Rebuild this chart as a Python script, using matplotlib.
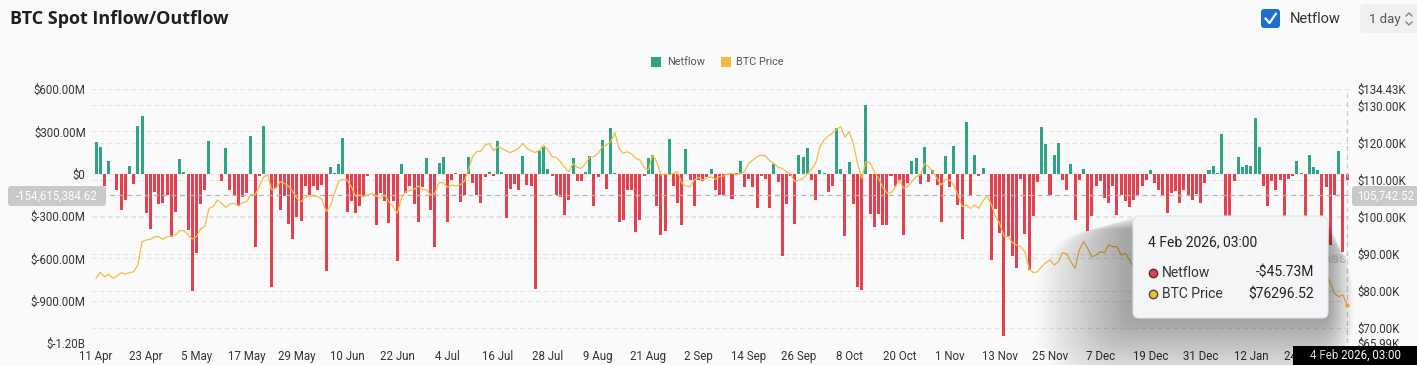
import numpy as np
import matplotlib.pyplot as plt
from matplotlib.patches import FancyBboxPatch, Rectangle
import datetime as dt

# daily data, 11 Apr 2025 -> 4 Feb 2026
start = dt.date(2025, 4, 11)

netflow_m = [
    224, 189, -85, 87, 0, -113, -255, -189, 57, -73,
    335, 411, -278, -389, -130, -215, -208, -149, -448, -271,
    104, 12, -401, -835, -562, -212, -113, 229, -5, -3,
    -54, 182, -113, -160, -227, -165, -137, 269, -521, -14,
    340, 0, -802, -101, -255, -160, -354, -462, -307, -333,
    -85, -149, -85, -113, -78, -691, 47, 5, 71, 250,
    -271, -196, -278, -231, -160, -19, -3, -366, -137, -196,
    -347, -196, -621, 71, -137, -85, -212, -342, -94, 109,
    -255, -519, 76, 118, -342, -42, 2, -200, -149, 118,
    -66, -149, -208, -24, 14, -19, 234, 12, -314, -109,
    -73, -118, 127, -78, -90, -814, 158, 189, 33, -19,
    -149, -165, -290, -189, 111, -54, -54, 14, 123, -227,
    -24, 241, -106, 321, 7, -342, -330, -113, -113, -413,
    -330, -19, 111, 135, -227, -432, -408, 245, -85, -208,
    -366, 175, -42, -227, -42, -54, -24, 33, -113, -149,
    -149, -10, -179, 5, 92, -94, -38, -94, -241, -14,
    -38, -245, 71, -61, -585, -212, -19, -354, 132, 118,
    182, -42, -189, 24, 5, -132, -85, 321, 35, -439,
    85, -212, -802, -826, 484, -283, -378, -283, -366, -366,
    -14, -85, -42, -437, -66, 87, 111, -76, 189, -59,
    24, -78, -345, 127, -94, 194, -219, -462, 366, -153,
    135, -14, 40, 0, -609, -250, -420, -1150, -440, -580,
    -665, -40, -430, -680, -300, -60, 330, 210, -153, 130,
    217, -42, -113, 71, -330, -42, 33, -408, -302, -90,
    -54, -172, -208, -90, -290, -149, -196, -236, -184, -149,
    -90, -42, 24, -66, -113, -149, -278, -137, -125, -208,
    -113, -149, -189, -142, -208, -66, 24, 57, 2, 283,
    -310, -320, -54, 118, 47, 64, 52, 394, 189, -85,
    -231, -54, -113, -42, -300, -38, -19, 87, 2, -300,
    135, 47, 28, -298, -94, -503, -149, 163, -557, -45.73,
]

btc_price = [
    83420, 85040, 83860, 84500, 83420, 84040, 84930, 84580, 84930, 85200,
    87000, 93280, 93740, 93930, 94630, 94630, 93930, 94630, 94820, 95090,
    96250, 96250, 95090, 94010, 94630, 96710, 97330, 102280, 102720, 104520,
    103630, 102550, 103440, 103630, 102900, 103800, 104070, 106060, 105870, 108110,
    110640, 111260, 107220, 107670, 109450, 109020, 108300, 106760, 104990, 104070,
    105250, 105610, 105610, 105430, 104710, 101370, 102900, 106320, 109640, 110090,
    109910, 108110, 105610, 105880, 105430, 105880, 106320, 105610, 104980, 105880,
    104070, 102720, 100940, 104980, 106760, 107040, 107390, 108300, 107390, 107220,
    105880, 106320, 109200, 109200, 107930, 108560, 108300, 108560, 109460, 112600,
    116190, 117540, 117720, 119340, 119790, 117810, 118880, 118430, 117810, 117270,
    117810, 118430, 119790, 118430, 117810, 117270, 117990, 119340, 117990, 116190,
    116010, 114840, 113320, 112150, 114390, 113320, 113050, 114390, 116010, 116190,
    117090, 118880, 119340, 120240, 122660, 118430, 117090, 117540, 116910, 115740,
    115290, 113320, 112600, 116640, 114840, 111260, 111530, 111260, 111710, 112150,
    109020, 108300, 108110, 109910, 110630, 109910, 110360, 110810, 110090, 110810,
    110990, 111530, 111710, 111260, 111710, 112150, 114390, 115290, 116190, 116640,
    116370, 115110, 114390, 113320, 113050, 112150, 111530, 109460, 109910, 110360,
    111530, 112780, 114390, 118880, 120690, 121770, 122480, 123570, 124290, 121410,
    122930, 119790, 114390, 110360, 114840, 114570, 112150, 110360, 108110, 106320,
    106490, 107930, 109910, 107670, 108110, 109460, 110810, 111260, 114390, 113500,
    112150, 110360, 108560, 110090, 109910, 108560, 105880, 102720, 103180, 102280,
    103180, 102280, 104350, 105610, 103180, 100020, 98050, 94820, 94630, 93030,
    92390, 91950, 90590, 86110, 84930, 85200, 86560, 87630, 88350, 87000,
    87900, 90310, 89960, 87900, 86110, 91040, 93280, 91490, 89230, 89690,
    90590, 90310, 92390, 91950, 91950, 89690, 90130, 88350, 86560, 87000,
    86500, 86000, 85500, 88000, 87500, 88500, 87500, 87000, 88000, 87500,
    87000, 87500, 88000, 87500, 88500, 89000, 88000, 87500, 88500, 90000,
    91500, 93000, 91500, 92000, 91000, 90500, 91500, 92500, 95000, 96500,
    95500, 95000, 93500, 92500, 89500, 89500, 90000, 89000, 88500, 87500,
    88000, 88500, 89500, 88000, 84500, 82080, 79380, 78480, 78930, 76296.52,
]

left_ticks = [600e6, 300e6, 0, -300e6, -600e6, -900e6, -1.2e9]
left_labels = ['$600.00M', '$300.00M', '$0', '$-300.00M', '$-600.00M', '$-900.00M', '$-1.20B']
right_ticks = [134430, 130000, 120000, 110000, 100000, 90000, 80000, 70000, 65990]
right_labels = ['$134.43K', '$130.00K', '$120.00K', '$110.00K', '$100.00K',
                '$90.00K', '$80.00K', '$70.00K', '$65.99K']

hover_netflow = -154615384.62
hover_price = 105742.52

days = np.arange(len(netflow_m))
flow = np.array(netflow_m) * 1e6
dates = [start + dt.timedelta(days=int(d)) for d in days]

GREEN = '#2ea386'
RED = '#e6404f'
GOLD = '#f3bd45'
BG = '#fafafa'
TXT = '#333333'

plt.rcParams['font.family'] = ['Roboto', 'DejaVu Sans']

W, H = 1417, 365
fig = plt.figure(figsize=(W / 100, H / 100), dpi=100, facecolor=BG)

ax = fig.add_axes([92 / W, 22 / H, 1258 / W, 254 / H])
ax.set_facecolor(BG)
y0, y1 = -1.2e9, 0.6e9
p0, p1 = 65990, 134430
ax.set_ylim(y0, y1)
ax.set_xlim(-0.96, 299.7)

# grid lines for both axes (right-axis ones mapped onto left scale)
for t in left_ticks:
    ax.axhline(t, color='#e4e4e4', lw=0.8, ls=(0, (4, 3)), zorder=0)
for t in right_ticks:
    ax.axhline(y0 + (t - p0) / (p1 - p0) * (y1 - y0), color='#e4e4e4', lw=0.8,
               ls=(0, (4, 3)), zorder=0)

cols = [GREEN if v >= 0 else RED for v in flow]
ax.bar(days, flow, width=0.72, color=cols, zorder=2)

ax.set_yticks(left_ticks)
ax.set_yticklabels(left_labels)
xt = days[::12]
ax.set_xticks(xt)
ax.set_xticklabels([f'{dates[i].day} {dates[i].strftime("%b")}' for i in xt])
ax.tick_params(axis='both', length=0, labelsize=8.3, colors=TXT)
ax.tick_params(axis='y', pad=4.5)
ax.tick_params(axis='x', pad=5)
for s in ax.spines.values():
    s.set_visible(False)

# crosshair
ax.axhline(hover_netflow, color='#b5b5b5', lw=0.9, ls=(0, (4, 3)), zorder=4)
ax.axvline(days[-1], color='#c8c8c8', lw=0.9, ls=(0, (4, 3)), zorder=4)

ax2 = ax.twinx()
ax2.set_ylim(p0, p1)
ax2.plot(days, btc_price, color=GOLD, lw=0.9, zorder=3)
ax2.plot(days[-1], btc_price[-1], 'o', ms=4, color=GOLD, mec='white', mew=0.8)
ax2.set_yticks(right_ticks)
ax2.set_yticklabels(right_labels)
ax2.tick_params(axis='y', length=0, labelsize=8.3, colors=TXT, pad=5)
for s in ax2.spines.values():
    s.set_visible(False)

# overlay in pixel coordinates
ov = fig.add_axes([0, 0, 1, 1])
ov.set_xlim(0, W)
ov.set_ylim(H, 0)
ov.axis('off')
ov.patch.set_alpha(0)

ov.text(10, 19, 'BTC Spot Inflow/Outflow', fontsize=13, fontweight='bold',
        color='#1e1e1e', va='center', family=['Open Sans', 'DejaVu Sans'])

# checkbox + selector
ov.add_patch(FancyBboxPatch((1261, 9), 19, 19, boxstyle='round,pad=0,rounding_size=3',
                            fc='#1f6fd1', ec='none'))
ov.plot([1265.5, 1269.5, 1276], [18.5, 23, 13.5], color='white', lw=1.6,
        solid_capstyle='round')
ov.text(1290, 19, 'Netflow', fontsize=10.5, color='#333333', va='center')
ov.add_patch(FancyBboxPatch((1360, 4), 60, 29, boxstyle='round,pad=0,rounding_size=5',
                            fc='#eef0f2', ec='none'))
ov.text(1369, 19, '1 day', fontsize=9.5, color='#555555', va='center')
ov.plot([1406, 1409, 1412], [16, 13, 16], color='#777777', lw=0.9)
ov.plot([1406, 1409, 1412], [22, 25, 22], color='#777777', lw=0.9)

# legend
ov.add_patch(Rectangle((651, 57), 10, 10, fc=GREEN, ec='none'))
ov.text(667, 62, 'Netflow', fontsize=7.8, color='#555555', va='center')
ov.add_patch(Rectangle((721, 57), 10, 10, fc=GOLD, ec='none'))
ov.text(736, 62, 'BTC Price', fontsize=7.8, color='#555555', va='center')

# crosshair labels
ov.add_patch(FancyBboxPatch((8, 186), 98, 20, boxstyle='round,pad=0,rounding_size=3',
                            fc='#c9c9c9', ec='none', zorder=4))
ov.text(57, 196.5, f'{hover_netflow:,.2f}', fontsize=8.3, color='white',
        ha='center', va='center', zorder=5)
ov.add_patch(FancyBboxPatch((1352, 186), 70, 20, boxstyle='round,pad=0,rounding_size=3',
                            fc='#c9c9c9', ec='none', zorder=4))
ov.text(1386, 196.5, f'{hover_price:,.2f}', fontsize=8.3, color='white',
        ha='center', va='center', zorder=5)
ov.add_patch(Rectangle((1293, 346), 130, 20, fc='black', ec='none', zorder=4))
ov.text(1355, 355.5, '4 Feb 2026, 03:00', fontsize=8.3, color='white',
        ha='center', va='center', zorder=5)

# watermark, mostly hidden by tooltip
ov.text(1347, 259, 'coinglass', fontsize=11, fontweight='bold', color='#d6d6d6',
        ha='right', va='center', zorder=1)

# tooltip with soft shadow (stronger toward the lower left)
for k in range(30):
    g = 1 + k * 2.2
    ov.add_patch(FancyBboxPatch((1133 - g * 1.5, 216 + g * 0.2), 195 + g * 1.9, 102 + g * 0.9,
                                boxstyle='round,pad=0,rounding_size=%d' % (8 + g),
                                fc='black', ec='none', alpha=0.010, zorder=6))
ov.add_patch(FancyBboxPatch((1133, 216), 195, 102, boxstyle='round,pad=0,rounding_size=6',
                            fc='#f3f5f7', ec='#e2e5e9', lw=0.8, zorder=7))
ov.text(1148, 242, dates[-1].strftime('%-d %b %Y') + ', 03:00', fontsize=10,
        color='#222222', va='center', zorder=8)
ov.plot(1153, 273, 'o', ms=6, color=RED, mec='#5a2a2a', mew=1, zorder=8)
ov.text(1162, 273, 'Netflow', fontsize=10, color='#333333', va='center', zorder=8)
ov.text(1314, 273, f'-${abs(netflow_m[-1]):.2f}M', fontsize=10, color='#222222',
        va='center', ha='right', zorder=8)
ov.plot(1153, 294, 'o', ms=6, color=GOLD, mec='#5a4a2a', mew=1, zorder=8)
ov.text(1162, 294, 'BTC Price', fontsize=10, color='#333333', va='center', zorder=8)
ov.text(1314, 294, f'${btc_price[-1]:.2f}', fontsize=10, color='#222222',
        va='center', ha='right', zorder=8)

fig.savefig('out.png', dpi=100, facecolor=BG)
